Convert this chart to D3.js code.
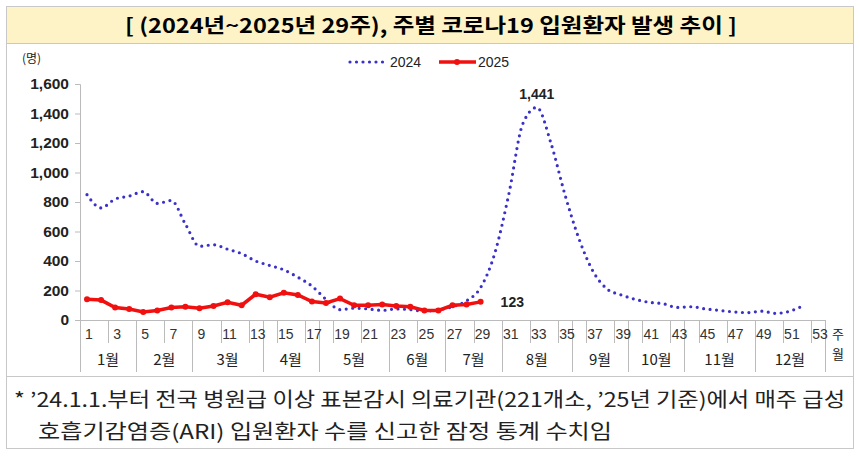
<!DOCTYPE html>
<html><head><meta charset="utf-8">
<script src="https://cdn.jsdelivr.net/npm/d3@7"></script>
<style>body{margin:0;background:#fff}</style></head>
<body><svg id="c" width="860" height="457"></svg>
<script>
const weeks = d3.range(1, 54);
const data2024 = [850,760,820,840,870,790,810,650,500,510,480,450,400,370,340,290,230,140,70,80,75,65,75,70,60,70,90,130,220,450,850,1330,1441,1200,850,550,330,210,170,140,120,110,85,90,75,65,55,50,60,45,60,100];
const data2025 = [140,135,85,75,55,65,85,90,80,95,120,100,175,155,185,170,125,115,145,100,100,105,95,90,65,65,100,105,123];
const months = ["1월","2월","3월","4월","5월","6월","7월","8월","9월","10월","11월","12월"];
const monthEnds = [4,8,13,17,22,26,30,35,39,43,48,53];
const yTicks = [0,200,400,600,800,1000,1200,1400,1600];
const title = "[ (2024년~2025년 29주), 주별 코로나19 입원환자 발생 추이 ]";
const note1 = "*  ’24.1.1.부터 전국 병원급 이상 표본감시 의료기관(221개소, ’25년 기준)에서 매주 급성";
const note2 = "호흡기감염증(ARI) 입원환자 수를 신고한 잠정 통계 수치임";

const svg = d3.select("#c");
const F = "'Noto Sans CJK KR', 'Noto Sans', sans-serif";
const bf = "'Liberation Sans',Arial,sans-serif";
svg.append("rect").attr("x",6.5).attr("y",6.5).attr("width",847).attr("height",442).attr("fill","#fff").attr("stroke","#c8c8c8");
svg.append("rect").attr("x",6.5).attr("y",6.5).attr("width",847).attr("height",37).attr("fill","#fdf3c6").attr("stroke","#c8c8c8");
svg.append("line").attr("x1",6).attr("x2",854).attr("y1",376.5).attr("y2",376.5).attr("stroke","#c8c8c8");
svg.append("text").attr("x",431).attr("y",33).attr("text-anchor","middle").attr("font-family",F).attr("font-weight","bold").attr("font-size",20).attr("textLength",612).attr("lengthAdjust","spacingAndGlyphs").text(title);
svg.append("text").attr("x",14).attr("y",407).attr("font-family",F).attr("font-size",20).attr("textLength",831).attr("lengthAdjust","spacingAndGlyphs").attr("fill","#222").text(note1);
svg.append("text").attr("x",38).attr("y",439).attr("font-family",F).attr("font-size",20).attr("textLength",574).attr("lengthAdjust","spacingAndGlyphs").attr("fill","#222").text(note2);

const x = d3.scaleLinear().domain([1,53]).range([87,818]);
const step = x(2)-x(1);
const y = d3.scaleLinear().domain([0,1600]).range([320,84]);

const ya = svg.append("g").attr("transform","translate(80,0)").call(d3.axisLeft(y).tickValues(yTicks).tickSize(5).tickFormat(d3.format(",")));
ya.select(".domain").attr("stroke","#bbb");
ya.selectAll(".tick line").attr("stroke","#bbb");
ya.selectAll("text").attr("font-family",bf).attr("font-size",15.5).attr("fill","#222").attr("font-weight","bold").attr("dx",-3);
svg.append("text").attr("x",22).attr("y",63).attr("font-family",F).attr("font-size",12).attr("fill","#222").text("(명)");

const g = svg.append("g").attr("stroke","#bbb").attr("fill","none");
g.append("line").attr("x1",80).attr("x2",x(53)+step/2).attr("y1",320.5).attr("y2",320.5);
d3.range(0,54,2).forEach(w=>{
  const xx = Math.round(x(w)+step/2)+0.5;
  g.append("line").attr("x1",xx).attr("x2",xx).attr("y1",320).attr("y2",343);
});
[0,...monthEnds].forEach(w=>{
  const xx = Math.round(x(w)+step/2)+0.5;
  g.append("line").attr("x1",xx).attr("x2",xx).attr("y1",320).attr("y2",372);
});
svg.selectAll(".wk").data(weeks.filter(w=>w%2===1)).join("text")
  .attr("x",d=>x(d)+2).attr("y",339).attr("text-anchor","middle")
  .attr("font-family",bf).attr("font-size",14).attr("fill","#333").text(d=>d);
svg.selectAll(".mo").data(months).join("text")
  .attr("x",(d,i)=>{const s=i?monthEnds[i-1]:0; return (x(s)+x(monthEnds[i]))/2+step/2;})
  .attr("y",365).attr("text-anchor","middle").attr("font-family",F).attr("font-size",15).attr("fill","#222").text(d=>d);
svg.append("text").attr("x",832).attr("y",339).attr("text-anchor","start").attr("font-family",F).attr("font-size",13).attr("fill","#222").text("주");
svg.append("text").attr("x",832).attr("y",359).attr("text-anchor","start").attr("font-family",F).attr("font-size",13).attr("fill","#222").text("월");

const line = d3.line().x((d,i)=>x(i+1)).y(d=>y(d)).curve(d3.curveMonotoneX);
svg.append("path").datum(data2024).attr("d",line).attr("fill","none").attr("stroke","#3a32c8").attr("stroke-width",3.2).attr("stroke-dasharray","0,6.5").attr("stroke-linecap","round");
const line2 = d3.line().x((d,i)=>x(i+1)).y(d=>y(d));
svg.append("path").datum(data2025).attr("d",line2).attr("fill","none").attr("stroke","#f01010").attr("stroke-width",3.5);
svg.selectAll(".pt").data(data2025).join("circle").attr("cx",(d,i)=>x(i+1)).attr("cy",d=>y(d)).attr("r",3).attr("fill","#f01010");

svg.append("text").attr("x",x(33)).attr("y",y(1441)-8).attr("text-anchor","middle").attr("font-family",bf).attr("font-weight","bold").attr("font-size",14).attr("fill","#222").text(d3.format(",")(1441));
svg.append("text").attr("x",x(29)+20).attr("y",y(123)+5).attr("font-family",bf).attr("font-weight","bold").attr("font-size",14).attr("fill","#222").text(123);

svg.append("line").attr("x1",350).attr("x2",388).attr("y1",62).attr("y2",62).attr("stroke","#3a32c8").attr("stroke-width",3.2).attr("stroke-dasharray","0,6.5").attr("stroke-linecap","round");
svg.append("text").attr("x",390).attr("y",67).attr("font-family",bf).attr("font-size",14).attr("fill","#222").text("2024");
svg.append("line").attr("x1",439).attr("x2",476).attr("y1",62).attr("y2",62).attr("stroke","#f01010").attr("stroke-width",3.5);
svg.append("circle").attr("cx",457).attr("cy",62).attr("r",3).attr("fill","#f01010");
svg.append("text").attr("x",478).attr("y",67).attr("font-family",bf).attr("font-size",14).attr("fill","#222").text("2025");
</script></body></html>
